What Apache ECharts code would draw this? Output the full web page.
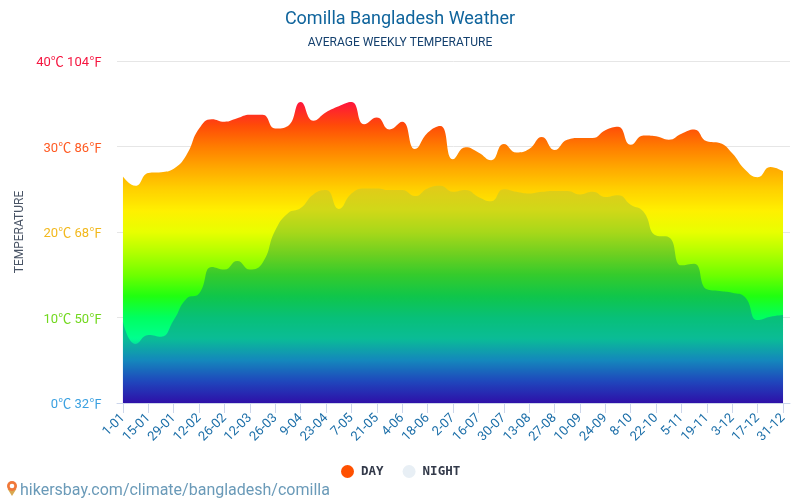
<!DOCTYPE html>
<html>
<head>
<meta charset="utf-8">
<title>Comilla Bangladesh Weather</title>
<style>
html, body { margin: 0; padding: 0; background: #fff; }
#main { width: 800px; height: 500px; }
</style>
<script src="https://cdn.jsdelivr.net/npm/echarts@6/dist/echarts.min.js"></script>
</head>
<body>
<div id="main"></div>
<script>
// weeks of the year
const weeks = ['1-01','8-01','15-01','22-01','29-01','5-02','12-02','19-02','26-02','5-03','12-03','19-03','26-03',
	'2-04','9-04','16-04','23-04','30-04','7-05','14-05','21-05','28-05','4-06','11-06','18-06','25-06',
	'2-07','9-07','16-07','23-07','30-07','6-08','13-08','20-08','27-08','3-09','10-09','17-09','24-09',
	'1-10','8-10','15-10','22-10','29-10','5-11','12-11','19-11','26-11','3-12','10-12','17-12','24-12','31-12'];

const dayTemp = [26.5,25.4,26.9,27.0,27.4,29.0,32.1,33.2,32.9,33.3,33.7,33.7,32.1,
	32.4,35.2,33.0,34.0,34.7,35.2,32.6,33.4,32.0,32.9,29.7,31.6,32.4,
	28.5,29.9,29.3,28.4,30.3,29.3,29.7,31.1,29.6,30.8,31.0,31.0,31.9,
	32.3,30.2,31.3,31.2,30.8,31.5,32.0,30.6,30.4,29.2,27.3,26.4,27.6,27.1];

const nightTemp = [9.5,6.9,7.95,7.75,9.7,12.2,12.8,15.9,15.6,16.6,15.6,16.4,20.2,
	22.2,22.8,24.4,24.9,22.7,24.5,25.1,25.1,24.9,24.9,24.2,25.1,25.4,
	24.7,24.9,24.1,23.6,25.0,24.7,24.5,24.7,24.8,24.8,24.4,24.7,24.1,
	24.3,23.2,22.4,19.6,19.4,16.1,16.3,13.3,13.1,12.9,12.4,9.7,10.1,10.3];

const celsiusTicks = [0, 10, 20, 30, 40];
const fahrenheitTicks = [32, 50, 68, 86, 104];
const tickColors = ['#3aa0e0', '#72d81e', '#f2b81c', '#ff5a22', '#f5153f'];

// 每2.5度一个颜色
const dayColors = ['#2e10a8','#1f46bc','#1488bc','#00ff90','#00ff60','#20ff10','#70ff00','#b0ff00','#e8ff00',
	'#fff000','#ffd000','#ffa800','#ff7c00','#ff4a08','#ff1838','#ff1040','#ff1040'];
const nightColors = ['#2e10a8','#1f46bc','#1488bc','#0abc96','#08c078','#0fc64a','#35cb2c','#70d020','#a8d81a',
	'#d0d818','#e0cc18','#e0c018','#e0c018','#e0c018','#e0c018','#e0c018','#e0c018'];

const labelFont = 'Roboto, "Noto Sans CJK SC", sans-serif';
const tickIndexes = weeks.map((w, i) => i).filter(i => i % 2 === 0);

let myChart = echarts.init(document.getElementById('main'));

let option = {
	animation: false,
	title: [{
		text: 'Comilla Bangladesh Weather',
		left: 395,
		top: 6,
		textAlign: 'center',
		textStyle: { color: '#0f649c', fontFamily: labelFont, fontSize: 18, fontWeight: 'normal' }
	}, {
		text: 'AVERAGE WEEKLY TEMPERATURE',
		left: 395,
		top: 32,
		textAlign: 'center',
		textStyle: { color: '#14406e', fontFamily: labelFont, fontSize: 12, fontWeight: 'normal' }
	}],
	legend: {
		top: 460,
		left: 336,
		itemWidth: 13,
		itemHeight: 13,
		itemGap: 19,
		icon: 'circle',
		textStyle: { color: '#333a4a', fontFamily: '"DejaVu Sans Mono", monospace', fontSize: 12.5, fontWeight: 'bold', padding: [0, 0, 0, 2] },
		data: [
			{ name: 'DAY', itemStyle: { color: '#ff5000' } },
			{ name: 'NIGHT', itemStyle: { color: '#e8eff5' } }
		]
	},
	grid: { left: 117, right: 10, top: 61, height: 342 },
	xAxis: {
		type: 'value',
		min: -0.47,
		max: 52.55,
		splitLine: { show: false },
		axisLine: { onZero: false, lineStyle: { color: '#ccd6eb' } },
		axisTick: { length: 10, lineStyle: { color: '#ccd6eb' }, customValues: tickIndexes },
		axisLabel: {
			customValues: tickIndexes,
			rotate: 45,
			margin: 13,
			color: '#1b6ea8',
			fontFamily: labelFont,
			fontSize: 13,
			formatter: function (v) { return weeks[v]; }
		}
	},
	yAxis: {
		type: 'value',
		min: 0,
		max: 40,
		interval: 10,
		name: 'TEMPERATURE',
		nameLocation: 'middle',
		nameGap: 97,
		nameMoveOverlap: false,
		nameTextStyle: { color: '#4a5566', fontFamily: labelFont, fontSize: 12, verticalAlign: 'middle' },
		axisLine: { show: false },
		axisTick: { show: false },
		splitLine: { lineStyle: { color: '#e6e6e6' } },
		axisLabel: {
			margin: 15,
			verticalAlign: 'top',
			lineHeight: 4,
			fontFamily: labelFont,
			fontSize: 13,
			color: function (v) { return tickColors[celsiusTicks.indexOf(Number(v))]; },
			formatter: function (v) { return v + '℃ ' + fahrenheitTicks[celsiusTicks.indexOf(Number(v))] + '℉'; }
		}
	},
	visualMap: [
		{ type: 'continuous', show: false, seriesIndex: 0, dimension: 1, min: 0, max: 40, inRange: { color: dayColors } },
		{ type: 'continuous', show: false, seriesIndex: 1, dimension: 1, min: 0, max: 40, inRange: { color: nightColors } }
	],
	graphic: [{
		type: 'polygon',
		shape: { points: [[7.6, 489], [16.4, 489], [12, 496]] },
		style: { fill: '#d8a850' }
	}, {
		type: 'circle',
		shape: { cx: 12, cy: 486, r: 5 },
		style: { fill: '#f0783a' }
	}, {
		type: 'circle',
		shape: { cx: 12, cy: 486, r: 2.3 },
		style: { fill: '#ffffff' }
	}, {
		type: 'text',
		left: 20,
		top: 483,
		style: { text: 'hikersbay.com/climate/bangladesh/comilla', fill: '#6a9ab8', font: '16px Roboto, sans-serif' }
	}],
	series: [{
		name: 'DAY',
		type: 'line',
		smooth: true,
		showSymbol: false,
		lineStyle: { width: 0 },
		areaStyle: { opacity: 1 },
		data: dayTemp.map((v, i) => [i, v])
	}, {
		name: 'NIGHT',
		type: 'line',
		smooth: true,
		showSymbol: false,
		lineStyle: { width: 0 },
		areaStyle: { opacity: 1 },
		data: nightTemp.map((v, i) => [i, v])
	}]
};

myChart.setOption(option);
</script>
</body>
</html>
